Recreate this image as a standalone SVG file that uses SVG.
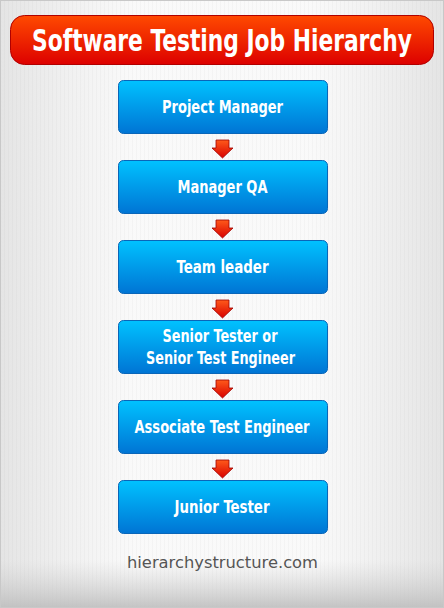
<svg xmlns="http://www.w3.org/2000/svg" width="444" height="608" viewBox="0 0 444 608">
<defs>
<pattern id="stripes" width="4" height="4" patternUnits="userSpaceOnUse">
<rect width="4" height="4" fill="#f4f4f4"/>
<rect width="1" height="4" fill="#e8e8e8"/>
</pattern>
<linearGradient id="sideFade" x1="0" y1="0" x2="1" y2="0">
<stop offset="0" stop-color="#dadada" stop-opacity="0.6"/>
<stop offset="0.3" stop-color="#ffffff" stop-opacity="0.5"/>
<stop offset="0.7" stop-color="#ffffff" stop-opacity="0.5"/>
<stop offset="1" stop-color="#dadada" stop-opacity="0.6"/>
</linearGradient>
<linearGradient id="bottomFade" x1="0" y1="0" x2="0" y2="1">
<stop offset="0" stop-color="#cfcfcf" stop-opacity="0"/>
<stop offset="1" stop-color="#bdbdbd" stop-opacity="0.9"/>
</linearGradient>
<linearGradient id="redGrad" x1="0" y1="0" x2="0" y2="1">
<stop offset="0" stop-color="#ff4a00"/>
<stop offset="1" stop-color="#dd0000"/>
</linearGradient>
<linearGradient id="blueGrad" x1="0" y1="0" x2="0" y2="1">
<stop offset="0" stop-color="#00c2ff"/>
<stop offset="1" stop-color="#0074d4"/>
</linearGradient>
<linearGradient id="arrowGrad" x1="0" y1="0" x2="0" y2="1">
<stop offset="0" stop-color="#ff5a1a"/>
<stop offset="1" stop-color="#d80000"/>
</linearGradient>
<style>
.box{fill:url(#blueGrad);stroke:#0a66b8;stroke-width:1}
.lbl{font-family:"DejaVu Sans Condensed","DejaVu Sans",sans-serif;font-weight:bold;font-stretch:condensed;font-size:17px;fill:#ffffff;text-anchor:middle}
.arrow{fill:url(#arrowGrad);stroke:#a00000;stroke-width:0.8}
</style>
</defs>
<rect width="444" height="608" fill="url(#stripes)"/>
<rect width="444" height="608" fill="url(#sideFade)"/>
<rect y="560" width="444" height="48" fill="url(#bottomFade)"/>
<rect x="0.5" y="0.5" width="443" height="607" fill="none" stroke="#c8c8c8"/>

<g id="title">
<rect x="10.5" y="15.5" width="423" height="49" rx="14" fill="url(#redGrad)" stroke="#b00000"/>
<text x="222" y="51" font-family="DejaVu Sans Condensed, DejaVu Sans, sans-serif" font-weight="bold" font-stretch="condensed" font-size="30" fill="#ffffff" text-anchor="middle" textLength="380" lengthAdjust="spacingAndGlyphs">Software Testing Job Hierarchy</text>
</g>

<g id="connectors">
<polygon class="arrow" points="216,140 229,140 229,148 233,148 222.5,158 212,148 216,148"/>
<polygon class="arrow" points="216,220 229,220 229,228 233,228 222.5,238 212,228 216,228"/>
<polygon class="arrow" points="216,300 229,300 229,308 233,308 222.5,318 212,308 216,308"/>
<polygon class="arrow" points="216,380 229,380 229,388 233,388 222.5,398 212,388 216,388"/>
<polygon class="arrow" points="216,460 229,460 229,468 233,468 222.5,478 212,468 216,468"/>
</g>

<g id="node1">
<rect class="box" x="118.5" y="80.5" width="209" height="53" rx="5"/>
<text class="lbl" x="222.5" y="113" textLength="121" lengthAdjust="spacingAndGlyphs">Project Manager</text>
</g>
<g id="node2">
<rect class="box" x="118.5" y="160.5" width="209" height="53" rx="5"/>
<text class="lbl" x="222.5" y="193" textLength="90" lengthAdjust="spacingAndGlyphs">Manager QA</text>
</g>
<g id="node3">
<rect class="box" x="118.5" y="240.5" width="209" height="53" rx="5"/>
<text class="lbl" x="222.5" y="273" textLength="92" lengthAdjust="spacingAndGlyphs">Team leader</text>
</g>
<g id="node4">
<rect class="box" x="118.5" y="320.5" width="209" height="53" rx="5"/>
<text class="lbl" x="220" y="342" textLength="115" lengthAdjust="spacingAndGlyphs">Senior Tester or</text>
<text class="lbl" x="220.5" y="364" textLength="149" lengthAdjust="spacingAndGlyphs">Senior Test Engineer</text>
</g>
<g id="node5">
<rect class="box" x="118.5" y="400.5" width="209" height="53" rx="5"/>
<text class="lbl" x="222" y="433" textLength="175" lengthAdjust="spacingAndGlyphs">Associate Test Engineer</text>
</g>
<g id="node6">
<rect class="box" x="118.5" y="480.5" width="209" height="53" rx="5"/>
<text class="lbl" x="222" y="513" textLength="95" lengthAdjust="spacingAndGlyphs">Junior Tester</text>
</g>

<text x="222.5" y="568" font-family="DejaVu Sans, Verdana, sans-serif" font-size="15.5" fill="#555555" text-anchor="middle" textLength="191" lengthAdjust="spacingAndGlyphs">hierarchystructure.com</text>
</svg>
